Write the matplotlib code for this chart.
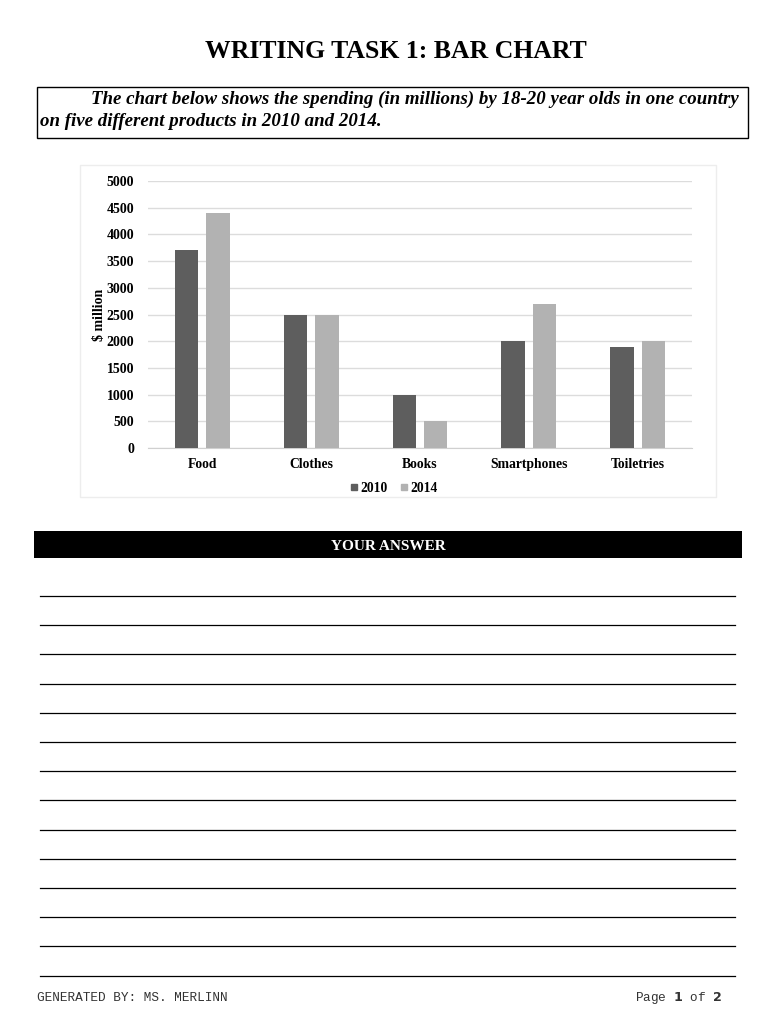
import numpy as np
import matplotlib.pyplot as plt
from matplotlib.patches import Rectangle
from matplotlib.lines import Line2D

# Chart data
categories = ["Food", "Clothes", "Books", "Smartphones", "Toiletries"]
spend_2010 = [3700, 2500, 1000, 2000, 1900]
spend_2014 = [4400, 2500, 500, 2700, 2000]
series_labels = ["2010", "2014"]
y_ticks = [0, 500, 1000, 1500, 2000, 2500, 3000, 3500, 4000, 4500, 5000]

W, H = 768, 1024
SERIF = "Liberation Serif"
MONO = "Liberation Mono"


def fx(x):
    return x / W


def fy(y):
    return 1 - y / H


fig = plt.figure(figsize=(W / 100, H / 100), dpi=100)
fig.patch.set_facecolor("white")

# Page heading
fig.text(fx(396), fy(51), "WRITING TASK 1: BAR CHART", ha="center", va="center",
         family=SERIF, weight="bold", fontsize=18.5)

# Prompt box
fig.patches.append(Rectangle((fx(37), fy(138)), fx(748) - fx(37), fy(87) - fy(138),
                             transform=fig.transFigure, fill=False, edgecolor="black", lw=1.0))
fig.text(fx(91), fy(99), "The chart below shows the spending (in millions) by 18-20 year olds in one country",
         ha="left", va="center", family=SERIF, weight="bold", style="italic", fontsize=13.6)
fig.text(fx(40), fy(122), "on five different products in 2010 and 2014.",
         ha="left", va="center", family=SERIF, weight="bold", style="italic", fontsize=13.6)

# Faint frame around the chart picture
fig.patches.append(Rectangle((fx(80), fy(497)), fx(716) - fx(80), fy(165) - fy(497),
                             transform=fig.transFigure, fill=False, edgecolor="#ededed", lw=1.0))

# Bar chart
ax = fig.add_axes([fx(148), fy(448), fx(692) - fx(148), fy(181) - fy(448)])
x = np.arange(len(categories))
bw = 0.215
ax.bar(x - 0.145, spend_2010, width=bw, color="#5e5e5e", label=series_labels[0], zorder=3)
ax.bar(x + 0.145, spend_2014, width=bw, color="#b2b2b2", label=series_labels[1], zorder=3)
ax.set_xlim(-0.5, len(categories) - 0.5)
ax.set_ylim(0, 5000)
ax.set_yticks(y_ticks)
ax.set_yticklabels([str(t) for t in y_ticks], family=SERIF, weight="bold", fontsize=10)
ax.set_xticks(x)
ax.set_xticklabels(categories, family=SERIF, weight="bold", fontsize=9.8)
ax.tick_params(axis="y", length=0, pad=10)
ax.tick_params(axis="x", length=0, pad=7)
ax.grid(axis="y", color="#dcdcdc", lw=1.0, zorder=0)
for s in ["top", "right", "left"]:
    ax.spines[s].set_visible(False)
ax.spines["bottom"].set_color("#d0d0d0")
ax.set_ylabel("$ million", family=SERIF, weight="bold", fontsize=10, labelpad=0)

handles = [Line2D([], [], marker="s", ls="", color="#5e5e5e", markersize=5),
           Line2D([], [], marker="s", ls="", color="#b2b2b2", markersize=5)]
fig.legend(handles, series_labels, loc="center", bbox_to_anchor=(fx(393), fy(488)), ncol=2,
           frameon=False, prop={"family": SERIF, "weight": "bold", "size": 9.8},
           handletextpad=0.1, columnspacing=0.8, handlelength=0.8)

# Answer banner
fig.patches.append(Rectangle((fx(34), fy(558)), fx(742) - fx(34), fy(531) - fy(558),
                             transform=fig.transFigure, facecolor="black", edgecolor="none"))
fig.text(fx(388), fy(547), "YOUR ANSWER", ha="center", va="center", color="white",
         family=SERIF, weight="bold", fontsize=11)

# Writing lines
n_lines = 14
first, step = 596, 29.2
for i in range(n_lines):
    yy = fy(first + i * step)
    fig.add_artist(Line2D([fx(40), fx(735)], [yy, yy], transform=fig.transFigure,
                          color="black", lw=0.9))

# Footer
fig.text(fx(37), fy(998), "GENERATED BY: MS. MERLINN", ha="left", va="center",
         family=MONO, fontsize=9.2, color="#333333")
fig.text(fx(722), fy(998), r"Page $\mathbf{1}$ of $\mathbf{2}$", ha="right", va="center",
         family=MONO, fontsize=9.2, color="#333333")

fig.savefig("out.png", dpi=100)
